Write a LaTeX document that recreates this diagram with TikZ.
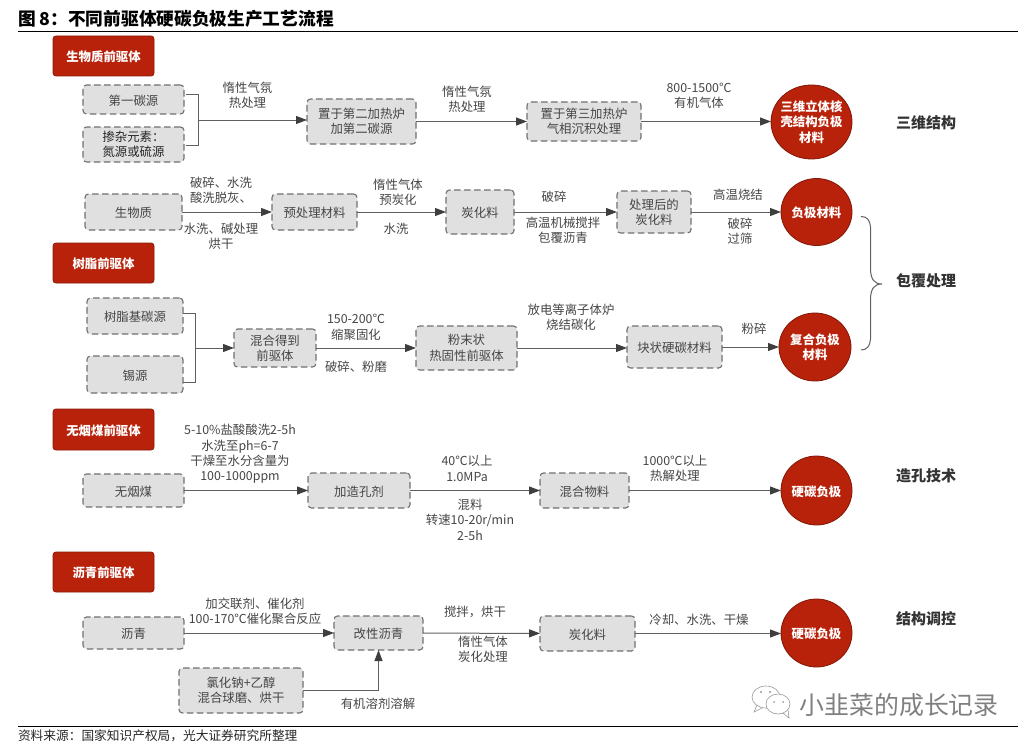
\documentclass[tikz,border=0pt]{standalone}
\usepackage{fontspec}
\setmainfont{Noto Sans CJK SC}
\usetikzlibrary{arrows.meta,shapes.geometric}
\definecolor{cred}{HTML}{B9220A}
\definecolor{cbox}{HTML}{E0E0E0}
\definecolor{cdash}{HTML}{707070}
\definecolor{ctxt}{HTML}{454545}
\definecolor{cline}{HTML}{606060}
\tikzset{
  x=1pt,y=-1pt,
  every node/.style={inner sep=0pt,outer sep=0pt,font=\fontsize{12.4}{15.4}\selectfont,align=center,text=ctxt,execute at begin node={\rule{0pt}{1.04em}}},
  hdr/.style={draw=cred!75!black,fill=cred,rounded corners=3pt,line width=.8pt,text=white,font=\fontsize{12.4}{15.4}\selectfont\bfseries},
  pbox/.style={draw=cdash,fill=cbox,rounded corners=3.5pt,line width=1.1pt,dash pattern=on 6.5pt off 3.5pt},
  cball/.style={draw=cred!70!black,fill=cred,line width=.8pt,text=white,inner sep=-9pt,font=\fontsize{12.4}{15.4}\selectfont\bfseries},
  tagtxt/.style={font=\fontsize{15}{18}\selectfont\bfseries,text=black!80},
  conn/.style={draw=cline,line width=1pt,-{Triangle[length=11pt,width=8pt,color=ctxt!90!black]}},
  plainline/.style={draw=cline,line width=1pt},
  rulel/.style={draw=black,line width=1.1pt}
}
\newcommand{\bx}[6]{\node[#1,minimum width=#5-#3,minimum height=#6-#4] (#2) at ({(#3+#5)/2},{(#4+#6)/2})}
\newcommand{\rball}[5]{\node[cball,ellipse,minimum width=2*#4,minimum height=2*#5] (#1) at (#2,#3)}
\begin{document}
\begin{tikzpicture}
\useasboundingbox (0,0) rectangle (1032,749);
% rules and title
\coordinate (tl) at (18,31.5); \coordinate (tr) at (1018,31.5);
\coordinate (fl) at (18,726.5); \coordinate (fr) at (1018,726.5);
\draw[rulel] (tl) -- (tr);
\draw[rulel] (fl) -- (fr);
\node[anchor=west,text=black,font=\fontsize{17.7}{20}\selectfont\bfseries] (title) at (18,17) {图 8：不同前驱体硬碳负极生产工艺流程};
\node[anchor=west,text=black!85,font=\fontsize{12.7}{16}\selectfont] (src) at (18,734.5) {资料来源：国家知识产权局，光大证券研究所整理};
% headers
\bx{hdr}{h1}{53}{36}{154}{76} {生物质前驱体};
\bx{hdr}{h2}{53}{243}{154}{283} {树脂前驱体};
\bx{hdr}{h3}{53}{409}{154}{450} {无烟煤前驱体};
\bx{hdr}{h4}{53}{552}{154}{592} {沥青前驱体};
% row 1
\bx{pbox}{a1}{83}{85}{184}{114} {第一碳源};
\bx{pbox}{a2}{83}{127}{184}{162} {\textcolor{black!85}{掺杂元素：}\\\textcolor{black!85}{氮源或硫源}};
\bx{pbox}{a3}{307}{99}{416}{144} {置于第二加热炉\\加第二碳源};
\bx{pbox}{a4}{527}{102}{641}{141} {置于第三加热炉\\气相沉积处理};
\rball{a5}{811.5}{122}{40.5}{37} {三维立体核\\壳结构负极\\材料};
\coordinate (j1) at (198,120);
\coordinate (j1a) at (198,95); \coordinate (j1b) at (198,145);
\coordinate (j1as) at (186,95); \coordinate (j1bs) at (186,145);
\draw[plainline] (j1as) -- (j1a) -- (j1b) -- (j1bs);
\draw[conn] (j1) -- (a3.west |- j1);
\draw[conn] (a3.east) -- (a4.west);
\draw[conn] (a4.east) -- (a5.west |- a4.east);
\node (l1) at (247.5,95.5) {惰性气氛\\热处理};
\node (l2) at (467,99.5) {惰性气氛\\热处理};
\node (l3) at (699,95.5) {800-1500℃\\有机气体};
\node[tagtxt] (t1) at (926,121.5) {三维结构};
% row 2
\bx{pbox}{b1}{85}{194}{182}{230} {生物质};
\bx{pbox}{b2}{272}{194}{357}{230} {预处理材料};
\bx{pbox}{b3}{446}{190}{514}{234} {炭化料};
\bx{pbox}{b4}{617}{191}{691}{233} {处理后的\\炭化料};
\rball{b5}{816.5}{212}{35.5}{33.5} {负极材料};
\draw[conn] (b1) -- (b2);
\draw[conn] (b2) -- (b3);
\draw[conn] (b3) -- (b4);
\draw[conn] (b4) -- (b5);
\node (l4) at (221,190) {破碎、水洗\\酸洗脱灰、};
\node (l5) at (221,236) {水洗、碱处理\\烘干};
\node (l6) at (398,192) {惰性气体\\预炭化};
\node (l7) at (396,228) {水洗};
\node (l8) at (554,196) {破碎};
\node (l9) at (563,230.5) {高温机械搅拌\\包覆沥青};
\node (l10) at (738,194) {高温烧结};
\node (l11) at (740,231.5) {破碎\\过筛};
% row 3
\bx{pbox}{c1}{87}{298}{183}{334} {树脂基碳源};
\bx{pbox}{c2}{87}{356}{183}{393} {锡源};
\bx{pbox}{c3}{234}{329}{316}{367} {混合得到\\前驱体};
\bx{pbox}{c4}{416}{326}{517}{370} {粉末状\\热固性前驱体};
\bx{pbox}{c5}{627}{326}{722}{368} {块状硬碳材料};
\rball{c6}{815}{347}{36}{34} {复合负极\\材料};
\coordinate (j2) at (195,348);
\coordinate (j2a) at (195,313); \coordinate (j2b) at (195,382);
\draw[plainline] (c1.east |- j2a) -- (j2a) -- (j2b) -- (c2.east |- j2b);
\draw[conn] (j2) -- (c3.west |- j2);
\draw[conn] (c3.east) -- (c4.west);
\draw[conn] (c4.east) -- (c5.west |- c4.east);
\draw[conn] (c5.east) -- (c6.west);
\node (l12) at (356,327.5) {150-200℃\\缩聚固化};
\node (l13) at (356,366) {破碎、粉磨};
\node (l14) at (571,317.5) {放电等离子体炉\\烧结碳化};
\node (l15) at (754,328) {粉碎};
% brace
\coordinate (ba) at (861,216.5); \coordinate (bt) at (882,284); \coordinate (bb) at (861,350);
\draw[plainline] (ba) .. controls (867,216.5) and (870,220) .. (870.5,227)
  -- (870.5,270) .. controls (871,279) and (874,284) .. (bt)
  .. controls (874,284) and (871,289) .. (870.5,298)
  -- (870.5,339) .. controls (870,346) and (867,350) .. (bb);
\node[tagtxt] (t2) at (926,279.5) {包覆处理};
% row 4
\bx{pbox}{d1}{83}{474}{184}{507} {无烟煤};
\bx{pbox}{d2}{308}{473}{410}{508} {加造孔剂};
\bx{pbox}{d3}{540}{473}{629}{508} {混合物料};
\rball{d4}{816.5}{490.5}{35.5}{34.5} {硬碳负极};
\draw[conn] (d1) -- (d2);
\draw[conn] (d2) -- (d3);
\draw[conn] (d3) -- (d4);
\node (l16) at (240,454) {5-10\%盐酸酸洗2-5h\\水洗至ph=6-7\\干燥至水分含量为\\100-1000ppm};
\node (l17) at (467,468.5) {40℃以上\\1.0MPa};
\node (l18) at (470,519.5) {混料\\转速10-20r/min\\2-5h};
\node (l19) at (675,468.5) {1000℃以上\\热解处理};
\node[tagtxt] (t3) at (926,474.5) {造孔技术};
% row 5
\bx{pbox}{e1}{83}{617}{184}{649} {沥青};
\bx{pbox}{e2}{334}{616}{423}{650} {改性沥青};
\bx{pbox}{e3}{540}{616}{635}{651} {炭化料};
\rball{e4}{816.5}{633}{35.5}{34} {硬碳负极};
\bx{pbox}{e5}{179}{668}{303}{713} {氯化钠+乙醇\\混合球磨、烘干};
\draw[conn] (e1) -- (e2);
\draw[conn] (e2) -- (e3);
\draw[conn] (e3) -- (e4.west |- e3.east);
\draw[conn] (e5.east) -| (e2.south);
\node (l20) at (255,611.5) {加交联剂、催化剂\\100-170℃催化聚合反应};
\node (l21) at (475,611) {搅拌，烘干};
\node (l22) at (483,649.5) {惰性气体\\炭化处理};
\node (l23) at (699,619) {冷却、水洗、干燥};
\node (l24) at (378,703) {有机溶剂溶解};
\node[tagtxt] (t4) at (926,617.5) {结构调控};
% watermark
\node[anchor=west,text=black!50,font=\fontsize{24.9}{28}\selectfont] (wm) at (799.5,703) {小韭菜的成长记录};
\begin{scope}[draw=black!40,line width=.6pt,fill=white]
  \draw[fill=white] (766,697) ellipse (14 and 11);
  \draw (757,705) -- (754,712) -- (762,708);
  \draw[fill=white] (778,704) ellipse (12 and 10);
  \draw (783,713) -- (789,718) -- (788,710);
  \fill[black!40] (761,692) circle (1.1) (770,692) circle (1.1) (774,702) circle (1) (783,702) circle (1);
\end{scope}
\end{tikzpicture}
\end{document}
